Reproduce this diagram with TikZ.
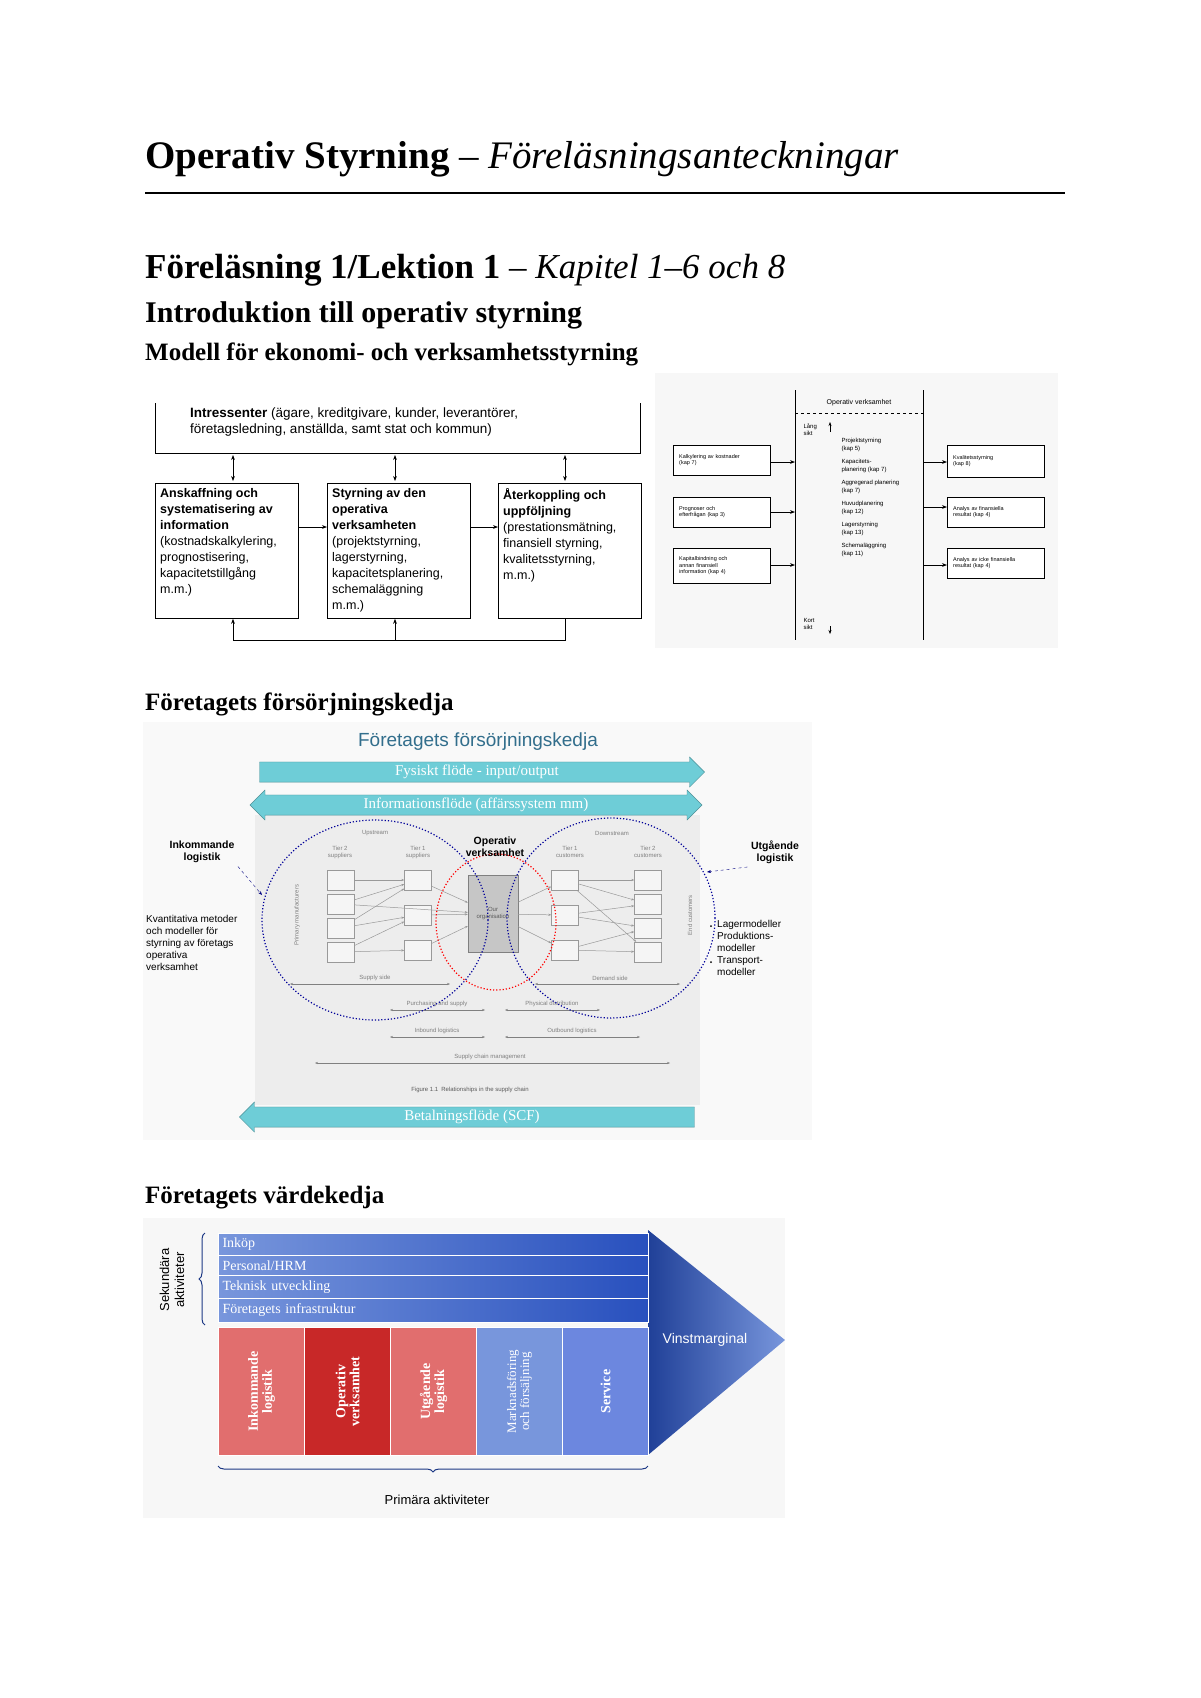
\documentclass[tikz,border=0pt]{standalone}
\usepackage{fontspec}
\setmainfont{Liberation Serif}
\newfontfamily\sans{Liberation Sans}
\usetikzlibrary{arrows.meta,shapes.arrows,decorations.pathreplacing}
\definecolor{teal1}{RGB}{110,205,215}
\definecolor{tealt}{RGB}{50,110,140}
\definecolor{vblue}{RGB}{40,80,190}
\definecolor{vblue2}{RGB}{120,150,220}
\definecolor{red1}{RGB}{200,40,40}
\definecolor{red2}{RGB}{225,110,110}
\tikzset{
 fs/.style={font=\fontsize{#1}{#1}\selectfont},
 box/.style={draw,line width=0.8pt,inner sep=0pt},
 arr/.style={-{Stealth[length=5pt]},line width=0.7pt},
 tiny/.style={font=\sans\fontsize{5.5}{6.5}\selectfont,align=left,text width=85pt},
 sbox/.style={draw,fill=white,minimum width=97pt,minimum height=30pt,anchor=north west},
 bar/.style={draw=white,line width=1pt,anchor=north west,minimum width=430pt,text width=422pt,align=left,text=white,inner sep=4pt,font=\fontsize{14}{14}\selectfont},
 col/.style={draw=white,line width=1pt,anchor=north west,minimum width=86pt,minimum height=128pt},
 vt/.style={rotate=90,text=white,font=\bfseries\fontsize{14}{14}\selectfont,align=center},
}
\begin{document}
\begin{tikzpicture}[x=1pt,y=-1pt]
\useasboundingbox (0,0) rectangle (1200,1698);
\fill[white] (0,0) rectangle (1200,1698);
% headings
\node[anchor=base west,fs=39,inner sep=0] (t1) at (145,168) {\textbf{Operativ Styrning} – \textit{Föreläsningsanteckningar}};
\draw[line width=2pt] (145,193) -- (1065,193);
\node[anchor=base west,fs=35,inner sep=0] (t2) at (145,278) {\textbf{Föreläsning 1/Lektion 1} – \textit{Kapitel 1–6 och 8}};
\node[anchor=base west,fs=30,inner sep=0] (t3) at (145,322) {\textbf{Introduktion till operativ styrning}};
\node[anchor=base west,fs=25,inner sep=0] (t4) at (145,360) {\textbf{Modell för ekonomi- och verksamhetsstyrning}};
% model diagram
\draw[line width=0.8pt] (155,403) -- (155,453) -- (640,453) -- (640,403);
\node[anchor=north west,font=\sans\fontsize{13.5}{16}\selectfont,align=left,inner sep=0] (ints) at (190,408) {\textbf{Intressenter} (ägare, kreditgivare, kunder, leverantörer,\\företagsledning, anställda, samt stat och kommun)};
\node[box,anchor=north west,minimum width=143pt,minimum height=135pt] (b1) at (155,483) {};
\node[box,anchor=north west,minimum width=143pt,minimum height=135pt] (b2) at (327,483) {};
\node[box,anchor=north west,minimum width=143pt,minimum height=135pt] (b3) at (498,483) {};
\node[anchor=north west,font=\sans\fontsize{12.5}{16}\selectfont,align=left,inner sep=0] at (160,488) {\textbf{Anskaffning och}\\\textbf{systematisering av}\\\textbf{information}\\(kostnadskalkylering,\\prognostisering,\\kapacitetstillgång\\m.m.)};
\node[anchor=north west,font=\sans\fontsize{12.5}{16}\selectfont,align=left,inner sep=0] at (332,488) {\textbf{Styrning av den}\\\textbf{operativa}\\\textbf{verksamheten}\\(projektstyrning,\\lagerstyrning,\\kapacitetsplanering,\\schemaläggning\\m.m.)};
\node[anchor=north west,font=\sans\fontsize{12.5}{16}\selectfont,align=left,inner sep=0] at (503,488) {\textbf{Återkoppling och}\\\textbf{uppföljning}\\(prestationsmätning,\\finansiell styrning,\\kvalitetsstyrning,\\m.m.)};
\foreach \x in {233,395,565}{\draw[{Stealth[length=5pt]}-{Stealth[length=5pt]},line width=0.7pt] (\x,455) -- (\x,481);}
\draw[arr] (b1.east|-0,527) -- (b2.west|-0,527);
\draw[arr] (b2.east|-0,527) -- (b3.west|-0,527);
\draw[line width=0.8pt] (565,618) -- (565,640) -- (233,640);
\draw[arr] (233,640) -- (b1.south-|233,0);
\draw[arr] (395,640) -- (b2.south-|395,0);
% right model
\fill[gray!6] (655,373) rectangle (1058,648);
\draw[line width=0.7pt] (795,390) -- (795,640) (923,390) -- (923,640);
\draw[dashed,line width=0.5pt] (795,413) -- (923,413);
\node[font=\sans\fontsize{7}{8}\selectfont] (ov) at (859,403) {Operativ verksamhet};
\node[sbox] (l1) at (673,445) {}; \node[tiny] at (l1) {Kalkylering av kostnader\\(kap 7)};
\node[sbox] (l2) at (673,497) {}; \node[tiny] at (l2) {Prognoser och\\efterfrågan (kap 3)};
\node[sbox,minimum height=35pt] (l3) at (673,548) {}; \node[tiny] at (l3) {Kapitalbindning och\\annan finansiell\\information (kap 4)};
\node[sbox,minimum height=32pt] (r1) at (947,445) {}; \node[tiny] at (r1) {Kvalitetsstyrning\\(kap 8)};
\node[sbox] (r2) at (947,497) {}; \node[tiny] at (r2) {Analys av finansiella\\resultat (kap 4)};
\node[sbox] (r3) at (947,548) {}; \node[tiny] at (r3) {Analys av icke finansiella\\resultat (kap 4)};
\foreach \n/\y in {l1/462,l2/512,l3/565}{\draw[arr] (\n.east|-0,\y) -- (795,\y);}
\foreach \n/\y in {r1/462,r2/507,r3/565}{\draw[arr] (923,\y) -- (\n.west|-0,\y);}
\node[font=\sans\fontsize{6}{7}\selectfont,align=left,anchor=north west] (ls) at (800,420) {Lång\\sikt};
\node[font=\sans\fontsize{6}{7}\selectfont,align=left,anchor=north west] (ks) at (800,615) {Kort\\sikt};
\draw[-{Stealth[length=4pt]},line width=0.5pt] (830,432) -- (830,422);
\draw[-{Stealth[length=4pt]},line width=0.5pt] (830,626) -- (830,634);
\node[font=\sans\fontsize{6}{7.5}\selectfont,align=left,anchor=north west] (mid) at (838,435) {Projektstyrning\\(kap 5)\\[6pt]Kapacitets-\\planering (kap 7)\\[6pt]Aggregerad planering\\(kap 7)\\[6pt]Huvudplanering\\(kap 12)\\[6pt]Lagerstyrning\\(kap 13)\\[6pt]Schemaläggning\\(kap 11)};
% supply chain
\node[anchor=base west,fs=25,inner sep=0] (t5) at (145,710) {\textbf{Företagets försörjningskedja}};
\fill[gray!5] (143,722) rectangle (812,1140);
\node[text=tealt,font=\sans\fontsize{19}{19}\selectfont] (sct) at (478,742) {Företagets försörjningskedja};
\fill[gray!14] (255,815) rectangle (700,1105);
\node[single arrow,fill=teal1,draw=teal1!70!black,minimum height=445pt,minimum width=30pt,single arrow head extend=4pt,inner sep=1pt,text=white,font=\fontsize{15}{15}\selectfont] (fa) at (477,772) {Fysiskt flöde - input/output};
\node[double arrow,fill=teal1,draw=teal1!70!black,minimum height=452pt,minimum width=30pt,double arrow head extend=4pt,inner sep=1pt,text=white,font=\fontsize{15}{15}\selectfont] (ia) at (476,805) {Informationsflöde (affärssystem mm)};
\node[single arrow,shape border rotate=180,fill=teal1,draw=teal1!70!black,minimum height=455pt,minimum width=30pt,single arrow head extend=4pt,inner sep=1pt,text=white,font=\fontsize{15}{15}\selectfont] (ba) at (472,1117) {Betalningsflöde (SCF)};
% inner figure
\tikzset{gl/.style={font=\sans\fontsize{6}{7}\selectfont,text=gray,align=center},gb/.style={draw=gray!80,fill=gray!8,minimum width=27pt,minimum height=20pt},ga/.style={-{Stealth[length=3pt]},draw=gray!80,line width=0.5pt}}
\node[gl] (up) at (375,833) {Upstream}; \node[gl] (dn) at (612,833) {Downstream};
\node[gl] at (340,852) {Tier 2\\suppliers}; \node[gl] at (418,852) {Tier 1\\suppliers};
\node[gl] at (570,852) {Tier 1\\customers}; \node[gl] at (648,852) {Tier 2\\customers};
\node[gb] (s1) at (341,880) {}; \node[gb] (s2) at (341,904) {}; \node[gb] (s3) at (341,928) {}; \node[gb] (s4) at (341,952) {};
\node[gb] (t1a) at (418,880) {}; \node[gb] (t1b) at (418,915) {}; \node[gb] (t1c) at (418,950) {};
\node[draw=gray,fill=gray!45,minimum width=50pt,minimum height=77pt] (org) at (493,914) {}; \node[gl,text=gray!70!black] at (org) {Our\\organisation};
\node[gb] (c1) at (565,880) {}; \node[gb] (c2) at (565,915) {}; \node[gb] (c3) at (565,950) {};
\node[gb] (d1) at (648,880) {}; \node[gb] (d2) at (648,904) {}; \node[gb] (d3) at (648,928) {}; \node[gb] (d4) at (648,952) {};
\foreach \a/\b in {s1/t1a,s2/t1a,s2/org,s3/t1a,s3/t1b,s4/t1b,s4/t1c,t1a/org,t1b/org,t1c/org,org/c1,org/c2,org/c3,c1/d1,c1/d2,c2/d2,c2/d3,c3/d3,c3/d4,c1/d4}{\draw[ga] (\a) -- (\b);}
\node[gl,rotate=90] at (297,915) {Primary manufacturers}; \node[gl,rotate=90] at (690,915) {End customers};
\draw[{Stealth[length=3pt]}-{Stealth[length=3pt]},draw=gray] (290,984) -- (450,984); \node[gl] at (375,978) {Supply side};
\draw[{Stealth[length=3pt]}-{Stealth[length=3pt]},draw=gray] (535,984) -- (680,984); \node[gl] at (610,978) {Demand side};
\draw[{Stealth[length=3pt]}-{Stealth[length=3pt]},draw=gray] (390,1010) -- (485,1010); \node[gl] at (437,1004) {Purchasing and supply};
\draw[{Stealth[length=3pt]}-{Stealth[length=3pt]},draw=gray] (505,1010) -- (600,1010); \node[gl] at (552,1004) {Physical distribution};
\draw[{Stealth[length=3pt]}-{Stealth[length=3pt]},draw=gray] (390,1037) -- (485,1037); \node[gl] at (437,1031) {Inbound logistics};
\draw[{Stealth[length=3pt]}-{Stealth[length=3pt]},draw=gray] (505,1037) -- (640,1037); \node[gl] at (572,1031) {Outbound logistics};
\draw[{Stealth[length=3pt]}-{Stealth[length=3pt]},draw=gray] (315,1063) -- (670,1063); \node[gl] at (490,1057) {Supply chain management};
\node[gl,text=gray!70!black] at (470,1090) {Figure 1.1\enspace Relationships in the supply chain};
\draw[blue!60!black,dotted,line width=1.2pt] (375,920) ellipse [x radius=113,y radius=100];
\draw[blue!60!black,dotted,line width=1.2pt] (611,918) ellipse [x radius=104,y radius=100];
\draw[red,dotted,line width=1.2pt] (496,922) ellipse [x radius=60,y radius=68];
\node[font=\sans\bfseries\fontsize{10.5}{12}\selectfont,align=center] (opv) at (495,847) {Operativ\\verksamhet};
\node[font=\sans\bfseries\fontsize{10.5}{12}\selectfont,align=center] (ink) at (202,852) {Inkommande\\logistik};
\node[font=\sans\bfseries\fontsize{10.5}{12}\selectfont,align=center] (utg) at (775,852) {Utgående\\logistik};
\coordinate (ie) at (262,895); \coordinate (ue) at (707,872);
\draw[dashed,-{Stealth[length=4pt]},blue!50!black] (ink.south east) -- (ie);
\draw[dashed,-{Stealth[length=4pt]},blue!50!black] (utg.south west) -- (ue);
\node[font=\sans\fontsize{10}{12}\selectfont,align=left,anchor=north west,inner sep=0] (kv) at (146,915) {Kvantitativa metoder\\och modeller för\\styrning av företags\\operativa\\verksamhet};
\node[font=\sans\fontsize{10}{12}\selectfont,align=left,anchor=north west,inner sep=0] (lm) at (717,920) {Lagermodeller\\Produktions-\\modeller\\Transport-\\modeller};
\fill (711,926) circle (1pt); \fill (711,962) circle (1pt);
% value chain
\node[anchor=base west,fs=25,inner sep=0] (t6) at (145,1203) {\textbf{Företagets värdekedja}};
\fill[gray!6] (143,1218) rectangle (785,1518);
\shade[left color=vblue!80!black,right color=vblue2] (648,1230) -- (785,1340) -- (648,1455) -- cycle;
\node[bar,minimum height=22pt,left color=vblue2,right color=vblue] (i1) at (218,1233) {Inköp};
\node[bar,minimum height=20pt,left color=vblue2,right color=vblue] (i2) at (218,1255) {Personal/HRM};
\node[bar,minimum height=23pt,left color=vblue2,right color=vblue] (i3) at (218,1275) {Teknisk utveckling};
\node[bar,minimum height=24pt,left color=vblue2,right color=vblue] (i4) at (218,1298) {Företagets infrastruktur};
\node[col,fill=red2] (p1) at (218,1327) {}; \node[vt] at (p1) {Inkommande\\logistik};
\node[col,fill=red1] (p2) at (304,1327) {}; \node[vt] at (p2) {Operativ\\verksamhet};
\node[col,fill=red2] (p3) at (390,1327) {}; \node[vt] at (p3) {Utgående\\logistik};
\node[col,fill=vblue2] (p4) at (476,1327) {}; \node[vt,font=\fontsize{13}{13}\selectfont] at (p4) {Marknadsföring\\och försäljning};
\node[col,fill=vblue2!90!blue] (p5) at (562,1327) {}; \node[vt] at (p5) {Service};
\node[text=white,font=\sans\fontsize{14}{14}\selectfont] (vm) at (705,1340) {Vinstmarginal};
\draw[vblue!70!black,line width=1pt,decorate,decoration={brace,amplitude=6pt}] (205,1325) -- (205,1233);
\node[rotate=90,font=\sans\fontsize{13}{15}\selectfont,align=center] (sek) at (172,1280) {Sekundära\\aktiviteter};
\draw[vblue!70!black,line width=1pt,decorate,decoration={brace,amplitude=6pt,mirror}] (218,1466) -- (648,1466);
\node[font=\sans\fontsize{13}{15}\selectfont] (pri) at (437,1500) {Primära aktiviteter};
\end{tikzpicture}
\end{document}
